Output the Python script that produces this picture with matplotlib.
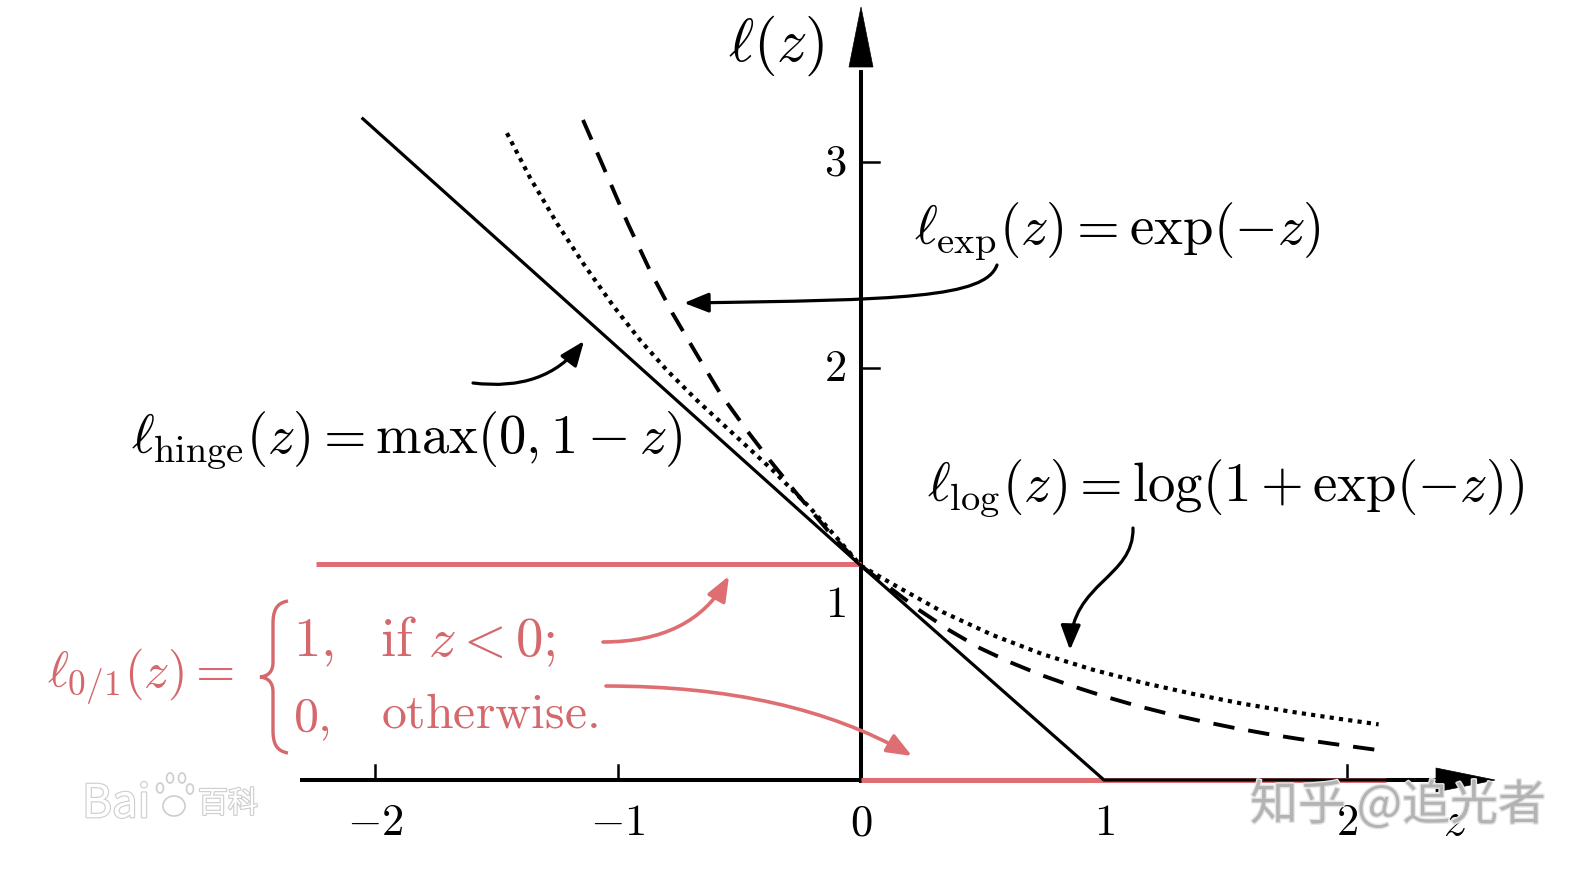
import matplotlib
matplotlib.use("Agg")
import matplotlib.pyplot as plt
from matplotlib.path import Path
from matplotlib.patches import FancyArrowPatch, PathPatch, Polygon, Ellipse
import matplotlib.patheffects as pe

plt.rcParams['mathtext.fontset'] = 'cm'
plt.rcParams['font.family'] = ['Noto Sans CJK SC', 'DejaVu Sans']

# ---------------- data ----------------
hinge_z = [-2.05, 0.0, 1.0, 2.16]
hinge_y = [3.21, 1.04, 0.0, 0.0]

exp_z = [-1.144, -1.045, -0.959, -0.868, -0.774, -0.675, -0.580, -0.469, -0.374,
         -0.263, -0.130, 0.0, 0.243, 0.366, 0.490, 0.613, 0.745, 0.872, 1.004,
         1.136, 1.263, 1.403, 1.531, 1.671, 1.798, 1.938, 2.160]
exp_y = [3.204, 2.935, 2.700, 2.472, 2.262, 2.064, 1.878, 1.696, 1.550,
         1.388, 1.202, 1.04, 0.822, 0.725, 0.640, 0.572, 0.508, 0.455, 0.405,
         0.360, 0.322, 0.285, 0.254, 0.224, 0.200, 0.176, 0.140]

log_z = [-1.457, -1.362, -1.251, -1.144, -1.021, -0.909, -0.798, -0.675, -0.527,
         -0.362, -0.210, -0.100, 0.0, 0.132, 0.337, 0.543, 0.749, 0.955, 1.160,
         1.366, 1.572, 1.778, 1.950, 2.130]
log_y = [3.140, 2.924, 2.702, 2.509, 2.304, 2.135, 1.988, 1.843, 1.682,
         1.502, 1.322, 1.176, 1.04, 0.950, 0.815, 0.703, 0.610, 0.535, 0.472,
         0.418, 0.370, 0.330, 0.300, 0.270]

zo_neg_z = [-2.243, 0.0]
zo_neg_y = [1.05, 1.05]
zo_pos_z = [0.0, 2.16]
zo_pos_y = [0.0, 0.0]

xtick_vals = [-2, -1, 0, 1, 2]
xtick_labels = [r'$-2$', r'$-1$', r'$0$', r'$1$', r'$2$']
xtick_marks = [-2, -1, 2]
ytick_vals = [1, 2, 3]
ytick_labels = [r'$1$', r'$2$', r'$3$']
ytick_marks = [2, 3]

RED = '#de6e72'
RED_TXT = '#d4686c'

# ---------------- figure / pixel mapping ----------------
W, H = 1584, 874
X0, Y0, SX, SY = 861.0, 780.0, 243.0, 206.0


def d(px, py):
    return ((px - X0) / SX, (Y0 - py) / SY)


fig = plt.figure(figsize=(W / 100, H / 100), dpi=100)
ax = fig.add_axes([0, 0, 1, 1])
ax.set_xlim(d(0, 0)[0], d(W, 0)[0])
ax.set_ylim(d(0, H)[1], d(0, 0)[1])
ax.axis('off')

# ---------------- axes with arrows ----------------
ax.plot([d(300, 0)[0], d(1440, 0)[0]], [0, 0], color='k', lw=2.9,
        solid_capstyle='butt', zorder=2)
ax.add_patch(Polygon([d(1495, 780), d(1436, 768), d(1436, 792)], closed=True,
                     fc='k', ec='k', lw=0.5, zorder=2))
ax.plot([0, 0], [d(0, 783)[1], d(0, 70)[1]], color='k', lw=2.9,
        solid_capstyle='butt', zorder=2)
ax.add_patch(Polygon([d(861, 7), d(849, 67), d(873, 67)], closed=True,
                     fc='k', ec='k', lw=0.5, zorder=2))

for t in xtick_marks:
    ax.plot([t, t], [0, 15 / SY], color='k', lw=1.8, zorder=2)
for t in ytick_marks:
    ax.plot([0, 18 / SX], [t, t], color='k', lw=1.8, zorder=2)

xl_y = d(0, 822)[1]
for t, lab in zip(xtick_vals, xtick_labels):
    ax.text(t, xl_y, lab, fontsize=32, ha='center', va='center', color='k')
yl_x = d(835, 0)[0]
for t, lab in zip(ytick_vals, ytick_labels):
    yy = t if t != 1 else d(0, 604)[1]
    ax.text(yl_x, yy, lab, fontsize=32, ha='center', va='center', color='k')
ax.text(d(1455, 0)[0], xl_y, r'$z$', fontsize=34, ha='center', va='center',
        color='k')

# ---------------- loss curves ----------------
ax.plot(zo_neg_z, zo_neg_y, color=RED, lw=3.6, solid_capstyle='butt', zorder=3)
ax.plot(zo_pos_z, zo_pos_y, color=RED, lw=3.6, solid_capstyle='butt', zorder=3)
ax.plot(hinge_z, hinge_y, color='k', lw=2.3, zorder=4)
ax.plot(exp_z, exp_y, color='k', lw=2.8, linestyle=(0, (5.5, 3.6)),
        dash_capstyle='butt', zorder=4)
ax.plot(log_z, log_y, color='k', lw=3.0, linestyle=(0, (1, 1.25)),
        dash_capstyle='butt', zorder=4)

# ---------------- annotation arrows ----------------
def curve_arrow(pts, codes, color, lw=2.3, hl=1.5, hw=0.6):
    verts = [d(*p) for p in pts]
    arr = FancyArrowPatch(path=Path(verts, codes),
                          arrowstyle='-|>,head_length=%g,head_width=%g' % (hl, hw),
                          mutation_scale=10, lw=lw, color=color, zorder=5)
    ax.add_patch(arr)

C4 = [Path.MOVETO, Path.CURVE4, Path.CURVE4, Path.CURVE4]
C3 = [Path.MOVETO, Path.CURVE3, Path.CURVE3]
# exp arrow
curve_arrow([(997, 265), (985, 298), (900, 300), (684, 303)], C4, 'k')
# hinge arrow
curve_arrow([(473, 383), (545, 392), (584, 341)], C3, 'k')
# log arrow
curve_arrow([(1133, 528), (1134, 578), (1072, 582), (1070, 650)], C4, 'k')
# 0/1 arrows (red)
curve_arrow([(603, 642), (692, 642), (729, 576)], C3, RED, lw=2.6)
curve_arrow([(606, 686), (790, 686), (912, 756)], C3, RED, lw=2.6)

# brace
bp = [(288, 601), (276, 603), (273, 611), (273, 624),
      (273, 662),
      (273, 671), (269, 676), (260, 677),
      (269, 678), (273, 683), (273, 692),
      (273, 730),
      (273, 743), (276, 751), (288, 753)]
bc = [Path.MOVETO, Path.CURVE4, Path.CURVE4, Path.CURVE4,
      Path.LINETO,
      Path.CURVE4, Path.CURVE4, Path.CURVE4,
      Path.CURVE4, Path.CURVE4, Path.CURVE4,
      Path.LINETO,
      Path.CURVE4, Path.CURVE4, Path.CURVE4]
ax.add_patch(PathPatch(Path([d(*p) for p in bp], bc), fc='none', ec=RED_TXT,
                       lw=2.4, zorder=5))

# ---------------- formula texts (fitted to pixel boxes) ----------------
renderer = fig.canvas.get_renderer()


def place(s, x0, x1, yc, color='k', size=36, fixed=None, **kw):
    t = fig.text(0, 0, s, fontsize=size if fixed is None else fixed,
                 color=color, ha='left', va='center', **kw)
    bb = t.get_window_extent(renderer)
    if fixed is None and x1 is not None:
        t.set_fontsize(size * (x1 - x0) / bb.width)
    bb = t.get_window_extent(renderer)
    dx = x0 - bb.x0
    dy = (H - yc) - 0.5 * (bb.y0 + bb.y1)
    t.set_position((dx / W, dy / H))
    return t


place(r'$\ell(z)$', 728, 825, 46)
place(r'$\ell_{\mathrm{exp}}(z) = \exp(-z)$', 914, 1321, 231)
place(r'$\ell_{\mathrm{hinge}}(z) = \max(0,1-z)$', 131, 683, 440)
place(r'$\ell_{\mathrm{log}}(z) = \log(1+\exp(-z))$', 927, 1525, 488)
place(r'$\ell_{0/1}(z) =$', 47, 234, 677, color=RED_TXT)
t1 = place(r'$\mathrm{if}\ z<0;$', 380, 556, 640, color=RED_TXT)
place(r'$1,$', 293, None, 641, color=RED_TXT, fixed=t1.get_fontsize())
t2 = place(r'$\mathrm{otherwise.}$', 381, 598, 714, color=RED_TXT)
place(r'$0,$', 293, None, 717, color=RED_TXT, fixed=t2.get_fontsize())

# ---------------- watermarks ----------------
place('知乎 @追光者', 1250, 1546, 806, color='#b3b3b3', zorder=10,
      path_effects=[pe.withStroke(linewidth=2, foreground='#e6e6e6')])
place('Bai', 82, 150, 804, color='white', zorder=10,
      path_effects=[pe.withStroke(linewidth=1.6, foreground='#cdcdcd')])
place('百科', 198, 258, 804, color='white', zorder=10,
      path_effects=[pe.withStroke(linewidth=1.6, foreground='#cdcdcd')])
for (px, py, w, h) in [(174, 806, 22, 20), (160, 788, 7, 10), (170, 778, 7, 10),
                       (182, 778, 7, 10), (190, 789, 7, 10)]:
    cx, cy = d(px, py)
    ax.add_patch(Ellipse((cx, cy), w / SX, h / SY, fc='white', ec='#cdcdcd',
                         lw=1.2, zorder=10))

fig.savefig('out.png', dpi=100)
